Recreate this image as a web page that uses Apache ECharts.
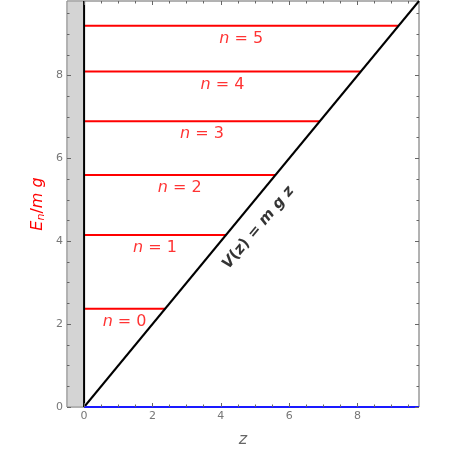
<!DOCTYPE html>
<html>
<head>
<meta charset="utf-8">
<script src="https://cdn.jsdelivr.net/npm/echarts@6/dist/echarts.min.js"></script>
<style>
  html, body { margin: 0; padding: 0; background: #fff; }
  #chart { width: 450px; height: 450px; }
</style>
</head>
<body>
<div id="chart"></div>
<script>
// energy levels E_n / m g
const levels = [2.37, 4.15, 5.6, 6.9, 8.1, 9.2]
const levelNames = ['0', '1', '2', '3', '4', '5']
// axis extents and ticks
const xMin = -0.5
const xMax = 9.8
const yMin = 0
const yMax = 9.8
const majorTicks = [0, 2, 4, 6, 8]
const minorTicks = [0.5, 1, 1.5, 2.5, 3, 3.5, 4.5, 5, 5.5, 6.5, 7, 7.5, 8.5, 9, 9.5]
// where the V(z) text sits (data coords)
const vLabelAt = [5.1, 4.33]

const tickGray = '#666'
const font = 'DejaVu Sans'

const myChart = echarts.init(document.getElementById('chart'))

// 轴的公共配置
function makeAxis (pos, ticks, len, withLabel, extra) {
  const horiz = (pos === 'bottom' || pos === 'top')
  const ax = {
    type: 'value',
    position: pos,
    z: 10,
    min: horiz ? xMin : yMin,
    max: horiz ? xMax : yMax,
    splitLine: { show: false },
    axisLine: { show: false, onZero: false },
    axisTick: {
      show: true,
      inside: true,
      length: len,
      customValues: ticks,
      lineStyle: { color: tickGray, width: 1 }
    },
    axisLabel: withLabel
      ? { show: true, customValues: ticks, color: '#777', fontSize: 11, fontFamily: font, margin: 4 }
      : { show: false }
  }
  return Object.assign(ax, extra || {})
}

const levelSeries = levels.map((e, i) => ({
  type: 'line',
  data: [[0, e], [e, e]],
  symbol: 'none',
  lineStyle: { color: '#ff0000', width: 2 },
  z: 3,
  silent: true
}))

const plainText = { textBorderWidth: 0, textShadowBlur: 0 }

const option = {
  animation: false,
  grid: {
    left: 67,
    right: 31,
    top: 1,
    bottom: 43,
    outerBoundsMode: 'none',
    show: true,
    borderColor: tickGray,
    borderWidth: 1,
    backgroundColor: 'transparent'
  },
  xAxis: [
    makeAxis('bottom', majorTicks, 4, true, {
      name: 'z',
      nameLocation: 'middle',
      nameGap: 25,
      nameMoveOverlap: false,
      nameTextStyle: { color: '#666', fontSize: 16, fontStyle: 'italic', fontFamily: font }
    }),
    makeAxis('bottom', minorTicks, 2.5, false),
    makeAxis('top', majorTicks, 4, false),
    makeAxis('top', minorTicks, 2.5, false)
  ],
  yAxis: [
    makeAxis('left', majorTicks, 4, true, {
      name: '{i|E}{s|n}{r|/}{i|m g}',
      nameLocation: 'middle',
      nameRotate: 90,
      nameGap: 20,
      nameMoveOverlap: false,
      nameTextStyle: {
        rich: {
          i: { color: '#ff0000', fontSize: 16, fontStyle: 'italic', fontFamily: font },
          r: { color: '#ff0000', fontSize: 16, fontFamily: font },
          s: { color: '#ff0000', fontSize: 11, fontStyle: 'italic', fontFamily: font, padding: [8, 0, 0, 0] }
        }
      }
    }),
    makeAxis('left', minorTicks, 2.5, false),
    makeAxis('right', majorTicks, 4, false),
    makeAxis('right', minorTicks, 2.5, false)
  ],
  series: [
    {
      // 墙 (gray strip left of z = 0), semi-transparent so the left ticks show through
      type: 'line',
      data: [[xMin, yMax], [0, yMax]],
      symbol: 'none',
      lineStyle: { width: 0 },
      areaStyle: { color: '#b0b0b0', opacity: 0.55, origin: 'start' },
      z: 0,
      silent: true
    },
    ...levelSeries,
    {
      type: 'line',
      data: [[0, yMin], [0, yMax]],
      symbol: 'none',
      lineStyle: { color: '#000', width: 2 },
      z: 4,
      silent: true
    },
    {
      // V(z) = m g z
      type: 'line',
      data: [[0, 0], [xMax, xMax]],
      symbol: 'none',
      lineStyle: { color: '#000', width: 2 },
      z: 4,
      silent: true
    },
    {
      type: 'line',
      data: [[0, 0], [xMax, 0]],
      symbol: 'none',
      clip: false,
      lineStyle: { color: '#1a1aff', width: 2 },
      z: 5,
      silent: true
    },
    {
      // n 的标签
      type: 'scatter',
      symbolSize: 0,
      data: levels.map((e, i) => [e / 2, e, levelNames[i]]),
      label: Object.assign({
        show: true,
        position: 'inside',
        offset: [0, 13],
        formatter: p => '{i|n} = ' + p.data[2],
        color: '#ff0000',
        fontSize: 16,
        fontFamily: font,
        rich: {
          i: Object.assign({ color: '#ff0000', fontSize: 16, fontStyle: 'italic', fontFamily: font }, plainText)
        }
      }, plainText),
      z: 6,
      silent: true
    },
    {
      type: 'scatter',
      symbolSize: 0,
      data: [vLabelAt],
      label: Object.assign({
        show: true,
        position: 'inside',
        rotate: 50,
        color: '#000',
        formatter: '{i|V}{r|(}{i|z}{r|) = }{i|m g z}',
        rich: {
          i: Object.assign({ color: '#000', fontSize: 15, fontWeight: 'bold', fontStyle: 'italic', fontFamily: font }, plainText),
          r: Object.assign({ color: '#000', fontSize: 15, fontWeight: 'bold', fontFamily: font }, plainText)
        }
      }, plainText),
      z: 6,
      silent: true
    }
  ]
}

myChart.setOption(option)
window.addEventListener('resize', () => {
  myChart.resize()
})
</script>
</body>
</html>
